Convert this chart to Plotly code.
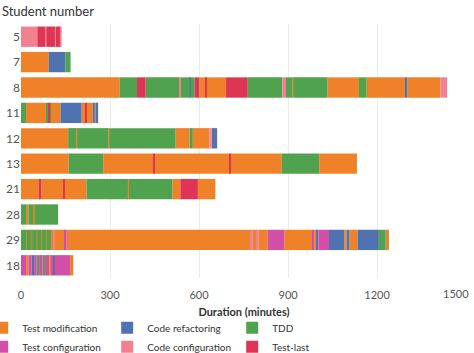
import plotly.graph_objects as go

# ---------------- data ----------------
activities = ["Test modification", "Code refactoring", "TDD",
              "Test configuration", "Code configuration", "Test-last"]
colors = ["#EF8228", "#4E73B0", "#50A24E", "#D24FA5", "#F2808F", "#DE3456"]
TM, CR, TD, TC, CC, TL = activities

students = ["5", "7", "8", "11", "12", "13", "21", "28", "29", "18"]

s5_acts = [CC, TL, CC, TL, CC, TL, CC]
s5_dur = [55, 26, 5, 28, 4, 13, 6]

s7_acts = [TM, CR, TD]
s7_dur = [94, 56, 17]

s8_acts = [TM, TD, TL, TD, CC, TD, CR, TD, TL, TM, TL, TM, TL, TD, CC, TD,
           TM, TD, TM, TD, TM, CR, TM, CC]
s8_dur = [333, 58, 29, 114, 4, 30, 4, 13, 16, 21, 4, 65, 73, 117, 12, 20,
          4, 116, 106, 26, 131, 6, 111, 23]

s11_acts = [TD, TM, TD, TL, TD, TM, CR, TM, TL, TM, CR, TM, CR]
s11_dur = [17, 67, 8, 4, 4, 33, 71, 12, 4, 21, 8, 7, 4]

s12_acts = [TM, TD, TM, TD, TM, TD, TM, TD, TM, CC, CR]
s12_dur = [159, 26, 4, 104, 4, 224, 47, 11, 56, 8, 18]

s13_acts = [TM, TD, TM, TL, TM, TL, TM, TD, TM]
s13_dur = [161, 116, 168, 6, 251, 4, 173, 126, 127]

s21_acts = [TM, TL, TM, TL, TM, TD, TM, TD, TM, TL, TM]
s21_dur = [64, 5, 73, 5, 74, 139, 4, 146, 27, 59, 59]

s28_acts = [TD, TM, TD, TM, TD]
s28_dur = [17, 8, 16, 6, 78]

s29_acts = [TD, TM, TD, TM, TD, TM, TD, TM, TD, TM, TD, TM, CC, TM, TC, TM,
            CC, TM, CC, TM, TC, TM, TC, TM, CR, TC, CR, TM, CR, TM, CR, TD, TM]
s29_dur = [17, 3, 15, 3, 14, 3, 13, 3, 13, 3, 14, 8, 5, 34, 6, 621,
           6, 13, 6, 31, 56, 95, 6, 9, 5, 36, 51, 8, 9, 28, 72, 23, 11]

s18_acts = [TC, TM, TC, CR, TC, TD, TC, TD, TC, TM, TC, CR, TC, TM]
s18_dur = [17, 8, 11, 8, 9, 8, 12, 8, 14, 8, 5, 6, 51, 11]

sessions = {
    "5": (s5_acts, s5_dur), "7": (s7_acts, s7_dur), "8": (s8_acts, s8_dur),
    "11": (s11_acts, s11_dur), "12": (s12_acts, s12_dur), "13": (s13_acts, s13_dur),
    "21": (s21_acts, s21_dur), "28": (s28_acts, s28_dur), "29": (s29_acts, s29_dur),
    "18": (s18_acts, s18_dur),
}

x_ticks = [0, 300, 600, 900, 1200, 1500]
x_tick_labels = ["0", "300", "600", "900", "1200", "1500"]

# ---------------- build segments ----------------
seg = {a: {"y": [], "x": [], "base": []} for a in activities}
for st in students:
    acts, durs = sessions[st]
    start = 0
    for a, d in zip(acts, durs):
        seg[a]["y"].append(st)
        seg[a]["x"].append(d)
        seg[a]["base"].append(start)
        start += d

fig = go.Figure()
for a, c in zip(activities, colors):
    fig.add_trace(go.Bar(
        y=seg[a]["y"], x=seg[a]["x"], base=seg[a]["base"], orientation="h",
        name=a, marker=dict(color=c, line=dict(width=0)), width=0.8,
    ))

PLOT_H = 353 - 24 - 75

fig.update_layout(
    width=474, height=353,
    margin=dict(l=21, r=7, t=24, b=75, autoexpand=False),
    paper_bgcolor="white", plot_bgcolor="white",
    barmode="overlay",
    font=dict(family="Lato", color="#555555"),
    title=dict(text="Student number", x=0.004, xref="container", xanchor="left",
               y=1 - 11 / 353, yref="container", yanchor="middle",
               font=dict(size=13, color="#333333")),
    legend=dict(orientation="h", x=-0.087, y=-0.139, xanchor="left", yanchor="top",
                entrywidth=80, font=dict(size=10, color="#333333"),
                itemwidth=30, tracegroupgap=0),
)
# last tick label sits inside the chart edge, as in the reference
fig.add_annotation(x=x_ticks[-1], xref="x", y=-15 / PLOT_H, yref="paper",
                   text=x_tick_labels[-1], showarrow=False, xanchor="center",
                   yanchor="middle", xshift=-10, font=dict(size=11, color="#555555"))

fig.update_xaxes(range=[0, 1503], tickvals=x_ticks,
                 ticktext=x_tick_labels[:-1] + [""],
                 showgrid=True, gridcolor="#ececec",
                 zeroline=False, showline=False, tickfont=dict(size=11),
                 ticklabelstandoff=9,
                 title=dict(text="<b>Duration (minutes)</b>", font=dict(size=11, color="#333333"),
                            standoff=8))
fig.update_yaxes(type="category", categoryorder="array", categoryarray=students,
                 autorange="reversed", showgrid=False, zeroline=False,
                 tickfont=dict(size=12))

fig.write_html("out.html")
